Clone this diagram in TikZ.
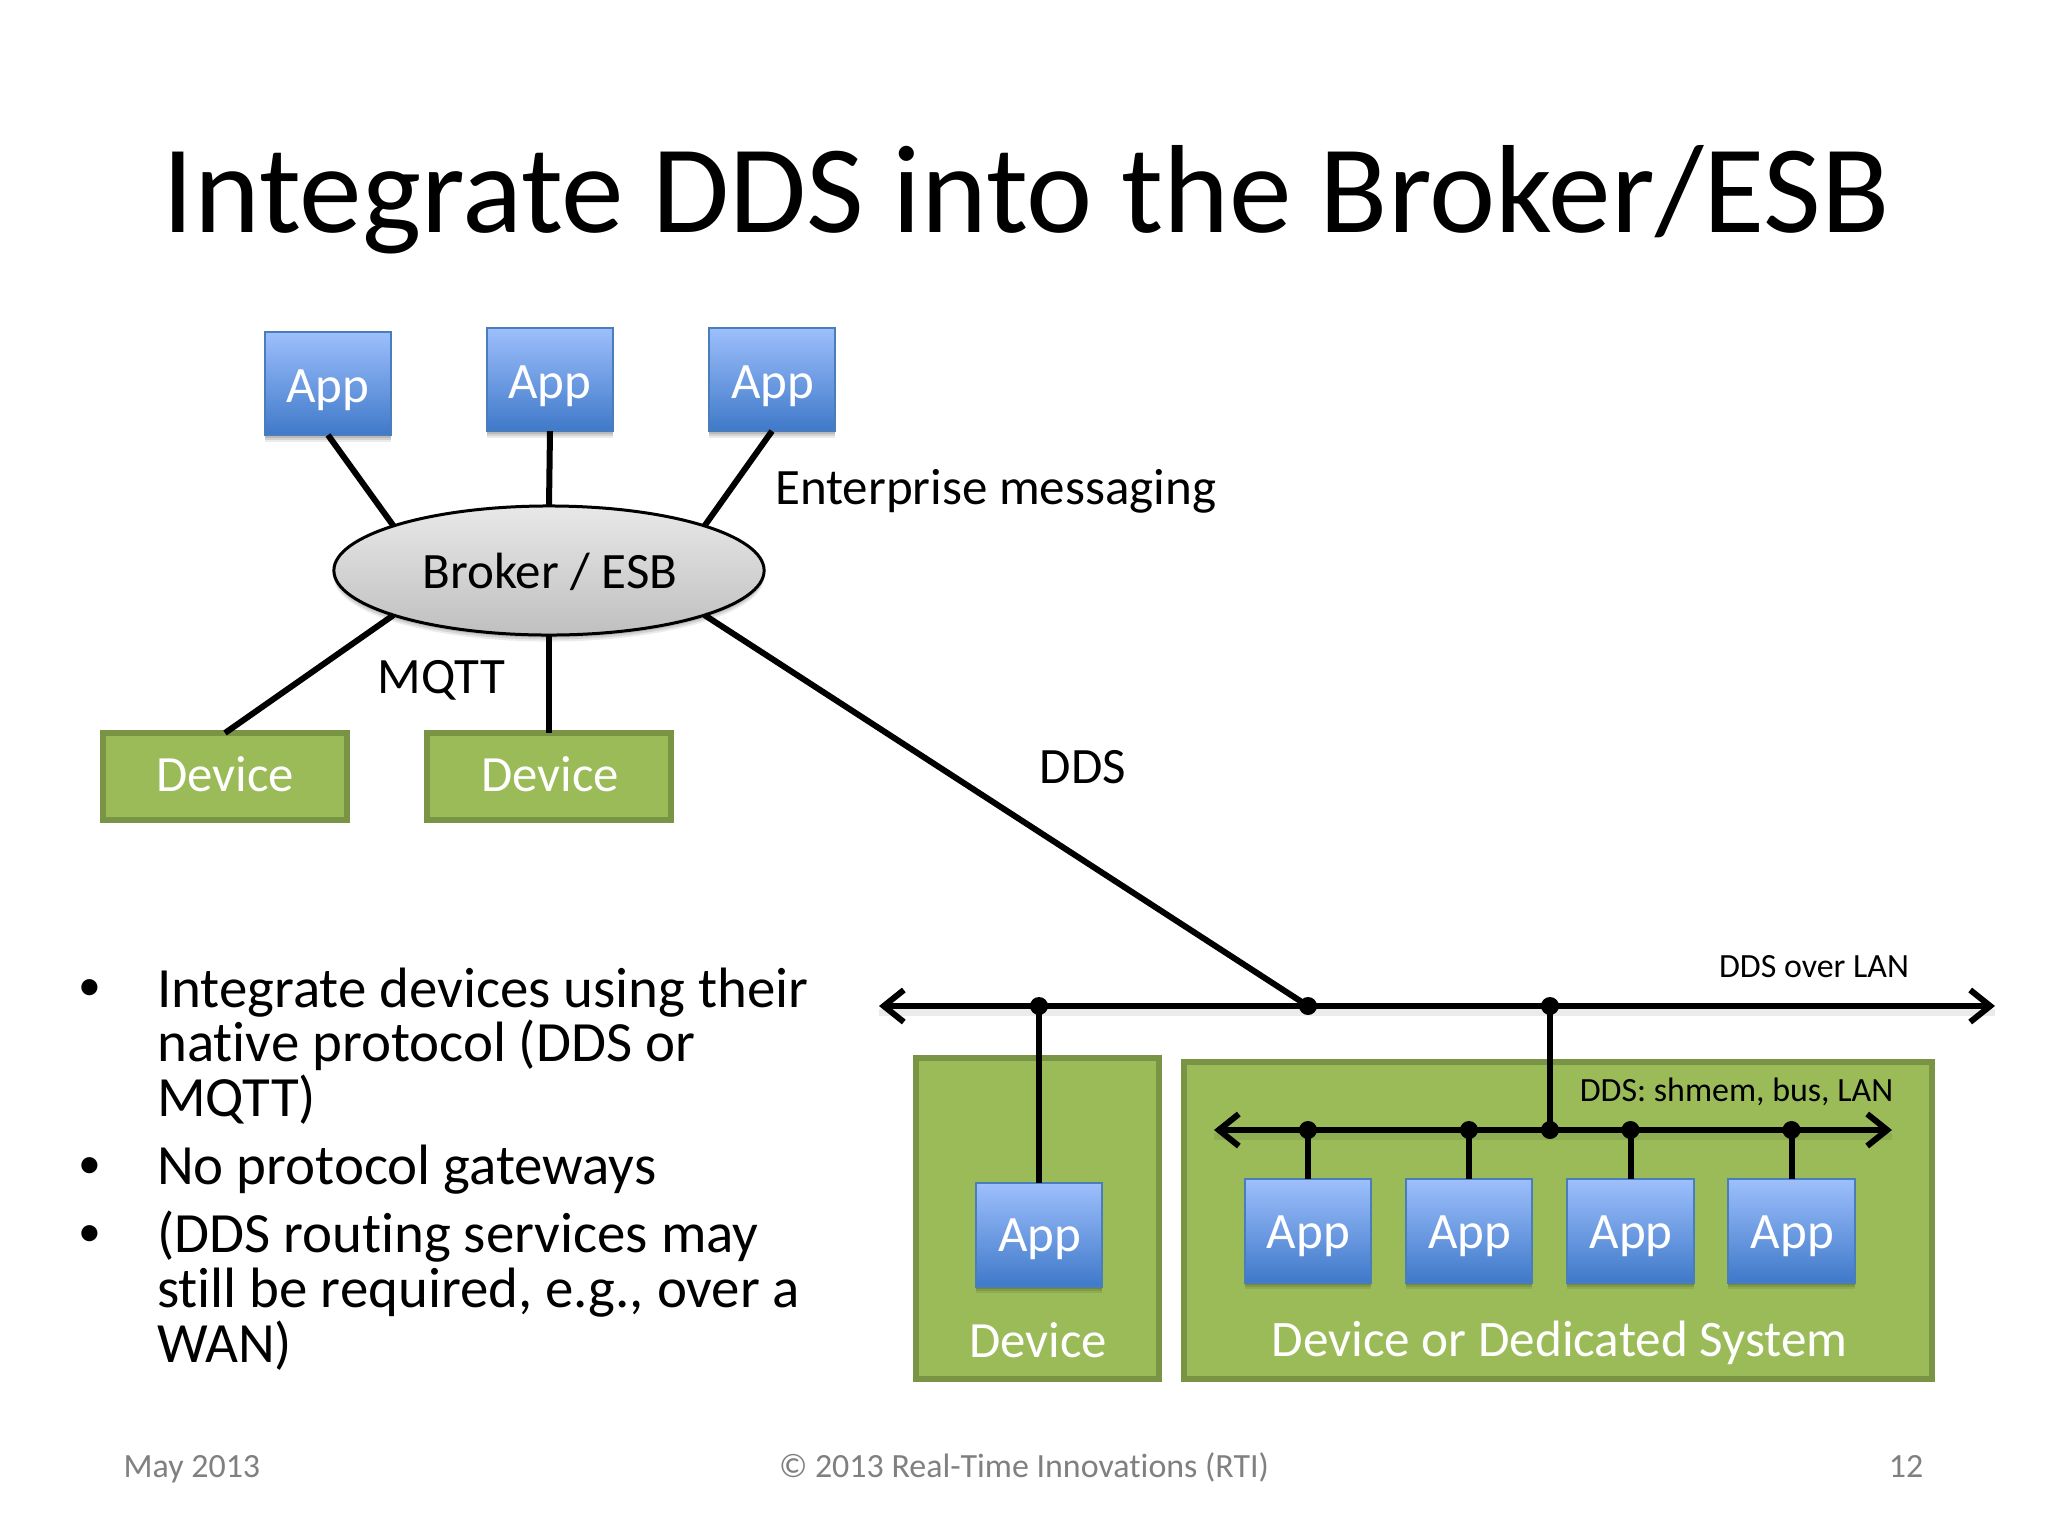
\documentclass[tikz,border=0pt]{standalone}
\usepackage{fontspec}
\setmainfont[Ligatures=NoCommon]{Carlito}
\usetikzlibrary{shapes.geometric,shadows,arrows.meta}
\definecolor{grn}{HTML}{9BBB59}
\definecolor{grnd}{HTML}{7A9446}
\definecolor{blt}{HTML}{9DBFFC}
\definecolor{bld}{HTML}{3F79C9}
\definecolor{bbd}{HTML}{4A7EBB}
\definecolor{foot}{HTML}{808080}
\tikzset{
  x=0.01cm,y=-0.01cm,
  softshadow/.style={
    drop shadow={shadow xshift=0cm,shadow yshift=-0.065cm,opacity=.08,fill=black},
    drop shadow={shadow xshift=0cm,shadow yshift=-0.045cm,opacity=.10,fill=black},
    drop shadow={shadow xshift=0cm,shadow yshift=-0.025cm,opacity=.12,fill=black}},
  appbox/.style={rectangle,draw=bbd,line width=0.02cm,top color=blt,bottom color=bld,middle color=blt!50!bld,
    minimum width=1.26cm,inner sep=0pt,outer sep=0pt,softshadow},
  apptext/.style={anchor=base,text=white,inner sep=0pt,font=\fontsize{14.5pt}{17pt}\selectfont},
  devbox/.style={rectangle,draw=grnd,fill=grn,line width=0.06cm,inner sep=0pt,outer sep=0pt},
  devtext/.style={anchor=base,text=white,inner sep=0pt,font=\fontsize{14.45pt}{17pt}\selectfont},
  broker/.style={ellipse,draw=black,line width=0.03cm,top color=gray!18,bottom color=gray!50,
    minimum width=4.3cm,minimum height=1.29cm,inner sep=0pt,outer sep=0pt,softshadow},
  lbl/.style={anchor=base,text=black,inner sep=0pt,font=\fontsize{14.5pt}{17pt}\selectfont},
  small/.style={anchor=base,text=black,inner sep=0pt,font=\fontsize{9.65pt}{12pt}\selectfont},
  body/.style={anchor=base west,text=black,inner sep=0pt,font=\fontsize{16.18pt}{19pt}\selectfont},
  bull/.style={anchor=base west,text=black,inner sep=0pt,font=\fontsize{13pt}{15pt}\selectfont},
  foottext/.style={text=foot,inner sep=0pt,font=\fontsize{9.65pt}{12pt}\selectfont},
  wire/.style={draw=black,line width=0.06cm},
  bus/.style={wire,{Straight Barb[length=0.2cm,width=0.32cm,line width=0.06cm]}-{Straight Barb[length=0.2cm,width=0.32cm,line width=0.06cm]},
    preaction={draw=black,opacity=.08,line width=0.07cm,transform canvas={yshift=-0.06cm},arrows=-}},
  dot/.style={circle,fill=black,minimum size=0.18cm,inner sep=0pt,outer sep=0pt},
}
\begin{document}
\begin{tikzpicture}
\useasboundingbox (0,0) rectangle (2048,1536);
\fill[white] (0,0) rectangle (2048,1536);

\node[anchor=base,text=black,inner sep=0pt,font=\fontsize{35.65pt}{40pt}\selectfont] (title) at (1026,232) {Integrate DDS into the Broker/ESB};

% top group
\node[appbox,minimum height=1.03cm] (a1) at (328,383.5) {};
\node[appbox,minimum height=1.03cm] (a2) at (550,379.5) {};
\node[appbox,minimum height=1.03cm] (a3) at (772,379.5) {};
\node[apptext] (a1t) at (328,402) {App};
\node[apptext] (a2t) at (550,398) {App};
\node[apptext] (a3t) at (773,398) {App};
\node[devbox,minimum width=2.44cm,minimum height=0.87cm] (d1) at (225,776.5) {};
\node[devbox,minimum width=2.44cm,minimum height=0.87cm] (d2) at (549,776.5) {};
\node[devtext] (d1t) at (225,791) {Device};
\node[devtext] (d2t) at (550,791) {Device};
\node[broker] (br) at (549,570.5) {};
\node[lbl] (brt) at (550,588) {Broker / ESB};

\draw[wire] (a1.south) -- (br.164);
\draw[wire] (a2.south) -- (br.north);
\draw[wire] (a3.south) -- (br.16);
\draw[wire] (br.196) -- (d1.north);
\draw[wire] (br.south) -- (d2.north);

\node[lbl,anchor=base west] (ent) at (774.5,504.5) {Enterprise messaging};
\node[lbl] (mq) at (441.5,693.5) {MQTT};
\node[lbl] (dds) at (1083,783) {DDS};

% bullets
\node[bull] (b1) at (78,1000) {•};
\node[bull] (b2) at (78,1178) {•};
\node[bull] (b3) at (78,1246) {•};
\node[body] (l1) at (156.5,1007) {Integrate devices using their};
\node[body] (l2) at (156.5,1061) {native protocol (DDS or};
\node[body] (l3) at (156.5,1116) {MQTT)};
\node[body] (l4) at (156.5,1184) {No protocol gateways};
\node[body] (l5) at (156.5,1252) {(DDS routing services may};
\node[body] (l6) at (156.5,1307) {still be required, e.g., over a};
\node[body] (l7) at (156.5,1362) {WAN)};

% lower boxes
\node[devbox,minimum width=2.43cm,minimum height=3.21cm] (bx1) at (1037.5,1218.5) {};
\node[devbox,minimum width=7.47cm,minimum height=3.16cm] (bx2) at (1558,1220.5) {};
\node[devtext] (bx1t) at (1038,1357) {Device};
\node[devtext,font=\fontsize{14.55pt}{17pt}\selectfont] (bx2t) at (1559.5,1356) {Device or Dedicated System};

% apps
\node[appbox,minimum height=1.03cm] (p0) at (1039,1235) {};
\node[appbox,minimum height=1.03cm] (p1) at (1308,1231) {};
\node[appbox,minimum height=1.03cm] (p2) at (1469,1231) {};
\node[appbox,minimum height=1.03cm] (p3) at (1630.5,1231) {};
\node[appbox,minimum height=1.03cm] (p4) at (1791.5,1231) {};
\node[apptext] (p0t) at (1040,1251) {App};
\node[apptext] (p1t) at (1308.5,1248) {App};
\node[apptext] (p2t) at (1470,1248) {App};
\node[apptext] (p3t) at (1631,1248) {App};
\node[apptext] (p4t) at (1792.5,1248) {App};

% buses
\coordinate (oL) at (879,1006);
\coordinate (oR) at (1995,1006);
\coordinate (iL) at (1214,1130);
\coordinate (iR) at (1892,1130);
\draw[bus] (oL) -- (oR);
\draw[bus] (iL) -- (iR);
\node[dot] (o1) at (1039,1006) {};
\node[dot] (o2) at (1308,1006) {};
\node[dot] (o3) at (1550,1006) {};
\node[dot] (i1) at (1308,1130) {};
\node[dot] (i2) at (1469,1130) {};
\node[dot] (i3) at (1550,1130) {};
\node[dot] (i4) at (1630.5,1130) {};
\node[dot] (i5) at (1791.5,1130) {};
\draw[wire] (o1.center) -- (p0.north);
\draw[wire] (o3.center) -- (i3.center);
\draw[wire] (i1.center) -- (p1.north);
\draw[wire] (i2.center) -- (p2.north);
\draw[wire] (i4.center) -- (p3.north);
\draw[wire] (i5.center) -- (p4.north);
\draw[wire] (br.344) -- (o2.center);

\node[small] (ol) at (1814,977) {DDS over LAN};
\node[small] (il) at (1736.5,1101) {DDS: shmem, bus, LAN};

% footer
\node[foottext,anchor=base west] (f1) at (123,1477) {May 2013};
\node[foottext,anchor=base] (f2) at (1024,1477) {© 2013 Real-Time Innovations (RTI)};
\node[foottext,anchor=base east] (f3) at (1924,1477) {12};
\end{tikzpicture}
\end{document}
